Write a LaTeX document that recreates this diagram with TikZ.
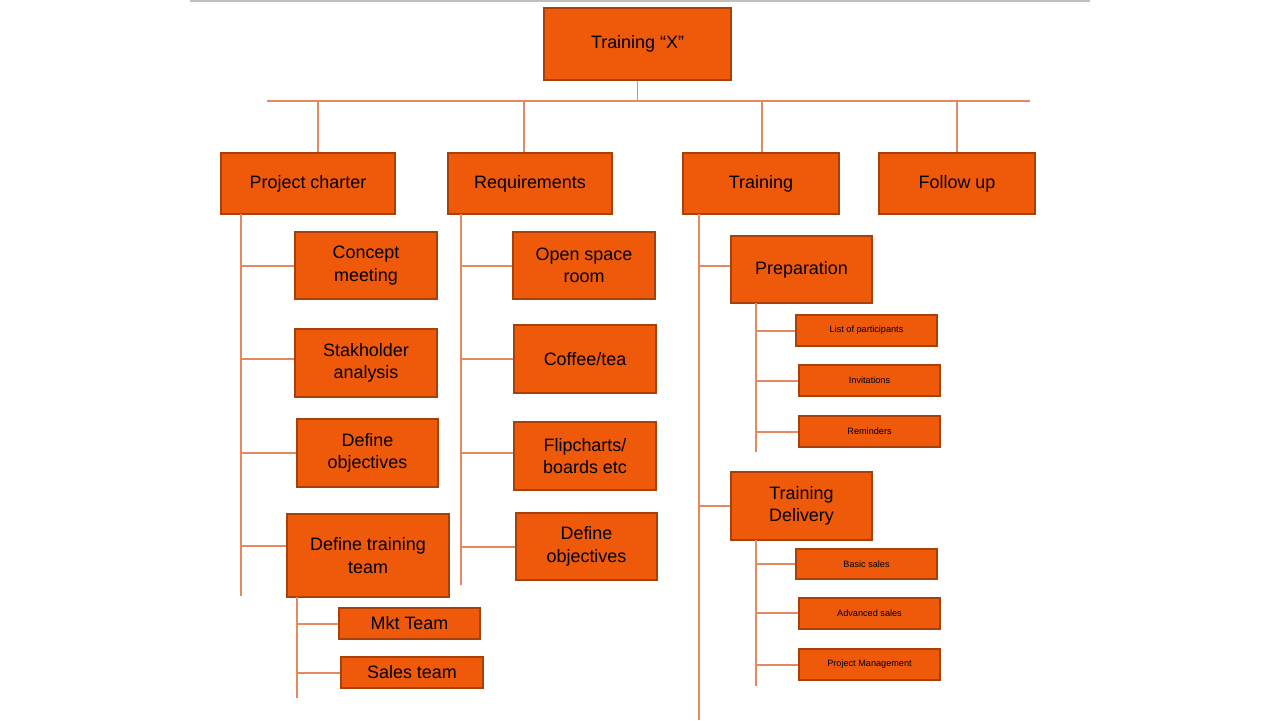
\documentclass[tikz,border=0pt]{standalone}
\usepackage{fontspec}
\setmainfont{Liberation Sans}
\definecolor{bfill}{HTML}{EE5A0A}
\definecolor{bdraw}{HTML}{A8400A}
\definecolor{lcol}{HTML}{E58A5E}
\tikzset{
 box/.style={draw=bdraw,fill=bfill,line width=0.5pt,inner sep=0.5pt,align=center,font=\fontsize{5.1}{6.4}\selectfont,text=black},
 sbox/.style={box,font=\fontsize{2.6}{3}\selectfont},
 conn/.style={draw=lcol,line width=0.35pt}
}
% \bx{name}{cx}{cy}{w}{h}{style}{text}
\newcommand\bx[7]{\node[#6,minimum width=#4*0.01cm,minimum height=#5*0.01cm] (#1) at (#2,#3) {#7};}
\begin{document}
\begin{tikzpicture}[x=0.01cm,y=-0.01cm]
\useasboundingbox (0,0) rectangle (1280,720);
\draw[gray!50,line width=0.5pt] (190,0.8) -- (1090,0.8);
\bx{top}{637.5}{44}{187}{72}{box}{Training “X”}
\bx{pc}{308}{183.5}{174}{61}{box}{Project charter}
\bx{req}{530}{183.5}{164}{61}{box}{Requirements}
\bx{tr}{761}{183.5}{156}{61}{box}{Training}
\bx{fu}{957}{183.5}{156}{61}{box}{Follow up}
\coordinate (busl) at (267,101); \coordinate (busr) at (1030,101);
\draw[conn] (busl) -- (busr);
\draw[conn] (top.south) -- (top.south |- busl);
\draw[conn] (318,101) -- (pc.north -| 318,0);
\draw[conn] (524,101) -- (req.north -| 524,0);
\draw[conn] (762,101) -- (tr.north -| 762,0);
\draw[conn] (957,101) -- (fu.north);
% project charter
\bx{cm}{366}{265.5}{142}{67}{box}{Concept\\meeting}
\bx{sa}{366}{363}{142}{68}{box}{Stakholder\\analysis}
\bx{do}{367.5}{453}{141}{68}{box}{Define\\objectives}
\bx{dt}{368}{555.5}{162}{83}{box}{Define training\\team}
\coordinate (pcs) at (241,214); \coordinate (pce) at (241,596);
\draw[conn] (pcs) -- (pce);
\foreach \n/\y in {cm/266,sa/359,do/453,dt/546}{\draw[conn] (241,\y) -- (\n.west |- 0,\y);}
\bx{mkt}{409.5}{623.5}{141}{31}{box}{Mkt Team}
\bx{st}{412}{672.5}{142}{31}{box}{Sales team}
\draw[conn] (297,597) -- (297,698);
\draw[conn] (297,624) -- (mkt.west |- 0,624);
\draw[conn] (297,673) -- (st.west |- 0,673);
% requirements
\bx{os}{584}{265.5}{142}{67}{box}{Open space\\room}
\bx{ct}{585}{359}{142}{68}{box}{Coffee/tea}
\bx{fc}{585}{456}{142}{68}{box}{Flipcharts/\\boards etc}
\bx{do2}{586.5}{546.5}{141}{67}{box}{Define\\objectives}
\draw[conn] (461,214) -- (461,585);
\foreach \n/\y in {os/266,ct/359,fc/453,do2/547}{\draw[conn] (461,\y) -- (\n.west |- 0,\y);}
% training
\bx{prep}{801.5}{269.5}{141}{67}{box}{Preparation}
\bx{td}{801.5}{506}{141}{68}{box}{Training\\Delivery}
\draw[conn] (699,214) -- (699,720);
\draw[conn] (699,266) -- (prep.west |- 0,266);
\draw[conn] (699,506) -- (td.west |- 0,506);
\bx{lp}{866.5}{330.5}{141}{31}{sbox}{List of participants}
\bx{inv}{869.5}{380.5}{141}{31}{sbox}{Invitations}
\bx{rem}{869.5}{431.5}{141}{31}{sbox}{Reminders}
\draw[conn] (756,303) -- (756,452);
\foreach \n/\y in {lp/331,inv/381,rem/432}{\draw[conn] (756,\y) -- (\n.west |- 0,\y);}
\bx{bs}{866.5}{564}{141}{30}{sbox}{Basic sales}
\bx{as}{869.5}{613.5}{141}{31}{sbox}{Advanced sales}
\bx{pm}{869.5}{664.5}{141}{31}{sbox}{Project Management}
\draw[conn] (756,540) -- (756,686);
\foreach \n/\y in {bs/564,as/613,pm/665}{\draw[conn] (756,\y) -- (\n.west |- 0,\y);}
\end{tikzpicture}
\end{document}
